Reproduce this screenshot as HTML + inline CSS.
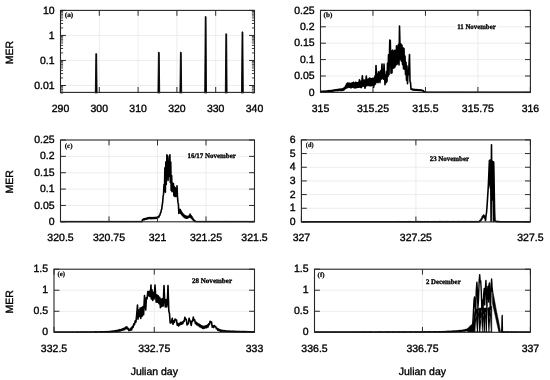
<!DOCTYPE html>
<html><head><meta charset="utf-8"><title>MER vs Julian day</title>
<style>html,body{margin:0;padding:0;background:#fff;}svg{display:block;text-rendering:geometricPrecision;}</style>
</head><body>
<svg width="550" height="380" viewBox="0 0 550 380">
<rect width="550" height="380" fill="#fff"/>
<defs>
<clipPath id="ca"><rect x="60.5" y="7.4" width="194" height="85.8"/></clipPath>
<clipPath id="cb"><rect x="320.5" y="7.4" width="209.9" height="85.8"/></clipPath>
<clipPath id="cc"><rect x="60.5" y="137" width="194" height="85.6"/></clipPath>
<clipPath id="cd"><rect x="301.4" y="136.9" width="229" height="85.85"/></clipPath>
<clipPath id="ce"><rect x="54" y="266.2" width="200.5" height="66.9"/></clipPath>
<clipPath id="cf"><rect x="314.5" y="266.2" width="215.9" height="66.9"/></clipPath>
</defs>
<line x1="99.3" y1="10.4" x2="99.3" y2="92.4" stroke="#e9e9e9" stroke-width="0.8"/>
<line x1="138.1" y1="10.4" x2="138.1" y2="92.4" stroke="#e9e9e9" stroke-width="0.8"/>
<line x1="176.9" y1="10.4" x2="176.9" y2="92.4" stroke="#e9e9e9" stroke-width="0.8"/>
<line x1="215.7" y1="10.4" x2="215.7" y2="92.4" stroke="#e9e9e9" stroke-width="0.8"/>
<line x1="60.5" y1="35.43" x2="254.5" y2="35.43" stroke="#e9e9e9" stroke-width="0.8"/>
<line x1="60.5" y1="60.46" x2="254.5" y2="60.46" stroke="#e9e9e9" stroke-width="0.8"/>
<line x1="60.5" y1="85.49" x2="254.5" y2="85.49" stroke="#e9e9e9" stroke-width="0.8"/>
<g clip-path="url(#ca)">
<path d="M95.3,94.4 L95.85,53.6 L96.65,53.8 L97.1,94.4 Z" fill="#000" stroke="#000" stroke-width="0.9" stroke-linejoin="round"/>
<path d="M157.9,94.4 L158.45,52.2 L159.25,52.4 L159.7,94.4 Z" fill="#000" stroke="#000" stroke-width="0.9" stroke-linejoin="round"/>
<path d="M179.9,94.4 L180.45,52.2 L181.25,52.4 L181.7,94.4 Z" fill="#000" stroke="#000" stroke-width="0.9" stroke-linejoin="round"/>
<path d="M204.7,94.4 L205.25,16.5 L206.05,16.7 L206.5,94.4 Z" fill="#000" stroke="#000" stroke-width="0.9" stroke-linejoin="round"/>
<path d="M225.3,94.4 L225.85,33.7 L226.65,33.9 L227.1,94.4 Z" fill="#000" stroke="#000" stroke-width="0.9" stroke-linejoin="round"/>
<path d="M241.5,94.4 L242.05,31.8 L242.85,32 L243.3,94.4 Z" fill="#000" stroke="#000" stroke-width="0.9" stroke-linejoin="round"/>
</g>
<line x1="60.5" y1="92.4" x2="60.5" y2="87" stroke="#2a2a2a" stroke-width="1"/>
<line x1="60.5" y1="10.4" x2="60.5" y2="15.8" stroke="#2a2a2a" stroke-width="1"/>
<line x1="99.3" y1="92.4" x2="99.3" y2="87" stroke="#2a2a2a" stroke-width="1"/>
<line x1="99.3" y1="10.4" x2="99.3" y2="15.8" stroke="#2a2a2a" stroke-width="1"/>
<line x1="138.1" y1="92.4" x2="138.1" y2="87" stroke="#2a2a2a" stroke-width="1"/>
<line x1="138.1" y1="10.4" x2="138.1" y2="15.8" stroke="#2a2a2a" stroke-width="1"/>
<line x1="176.9" y1="92.4" x2="176.9" y2="87" stroke="#2a2a2a" stroke-width="1"/>
<line x1="176.9" y1="10.4" x2="176.9" y2="15.8" stroke="#2a2a2a" stroke-width="1"/>
<line x1="215.7" y1="92.4" x2="215.7" y2="87" stroke="#2a2a2a" stroke-width="1"/>
<line x1="215.7" y1="10.4" x2="215.7" y2="15.8" stroke="#2a2a2a" stroke-width="1"/>
<line x1="254.5" y1="92.4" x2="254.5" y2="87" stroke="#2a2a2a" stroke-width="1"/>
<line x1="254.5" y1="10.4" x2="254.5" y2="15.8" stroke="#2a2a2a" stroke-width="1"/>
<line x1="60.5" y1="10.4" x2="65.9" y2="10.4" stroke="#2a2a2a" stroke-width="1"/>
<line x1="254.5" y1="10.4" x2="249.1" y2="10.4" stroke="#2a2a2a" stroke-width="1"/>
<line x1="60.5" y1="35.43" x2="65.9" y2="35.43" stroke="#2a2a2a" stroke-width="1"/>
<line x1="254.5" y1="35.43" x2="249.1" y2="35.43" stroke="#2a2a2a" stroke-width="1"/>
<line x1="60.5" y1="60.46" x2="65.9" y2="60.46" stroke="#2a2a2a" stroke-width="1"/>
<line x1="254.5" y1="60.46" x2="249.1" y2="60.46" stroke="#2a2a2a" stroke-width="1"/>
<line x1="60.5" y1="85.49" x2="65.9" y2="85.49" stroke="#2a2a2a" stroke-width="1"/>
<line x1="254.5" y1="85.49" x2="249.1" y2="85.49" stroke="#2a2a2a" stroke-width="1"/>
<line x1="60.5" y1="93.02" x2="63.1" y2="93.02" stroke="#2a2a2a" stroke-width="0.9"/>
<line x1="254.5" y1="93.02" x2="251.9" y2="93.02" stroke="#2a2a2a" stroke-width="0.9"/>
<line x1="60.5" y1="91.04" x2="63.1" y2="91.04" stroke="#2a2a2a" stroke-width="0.9"/>
<line x1="254.5" y1="91.04" x2="251.9" y2="91.04" stroke="#2a2a2a" stroke-width="0.9"/>
<line x1="60.5" y1="89.37" x2="63.1" y2="89.37" stroke="#2a2a2a" stroke-width="0.9"/>
<line x1="254.5" y1="89.37" x2="251.9" y2="89.37" stroke="#2a2a2a" stroke-width="0.9"/>
<line x1="60.5" y1="87.92" x2="63.1" y2="87.92" stroke="#2a2a2a" stroke-width="0.9"/>
<line x1="254.5" y1="87.92" x2="251.9" y2="87.92" stroke="#2a2a2a" stroke-width="0.9"/>
<line x1="60.5" y1="86.64" x2="63.1" y2="86.64" stroke="#2a2a2a" stroke-width="0.9"/>
<line x1="254.5" y1="86.64" x2="251.9" y2="86.64" stroke="#2a2a2a" stroke-width="0.9"/>
<line x1="60.5" y1="77.96" x2="63.1" y2="77.96" stroke="#2a2a2a" stroke-width="0.9"/>
<line x1="254.5" y1="77.96" x2="251.9" y2="77.96" stroke="#2a2a2a" stroke-width="0.9"/>
<line x1="60.5" y1="73.55" x2="63.1" y2="73.55" stroke="#2a2a2a" stroke-width="0.9"/>
<line x1="254.5" y1="73.55" x2="251.9" y2="73.55" stroke="#2a2a2a" stroke-width="0.9"/>
<line x1="60.5" y1="70.42" x2="63.1" y2="70.42" stroke="#2a2a2a" stroke-width="0.9"/>
<line x1="254.5" y1="70.42" x2="251.9" y2="70.42" stroke="#2a2a2a" stroke-width="0.9"/>
<line x1="60.5" y1="67.99" x2="63.1" y2="67.99" stroke="#2a2a2a" stroke-width="0.9"/>
<line x1="254.5" y1="67.99" x2="251.9" y2="67.99" stroke="#2a2a2a" stroke-width="0.9"/>
<line x1="60.5" y1="66.01" x2="63.1" y2="66.01" stroke="#2a2a2a" stroke-width="0.9"/>
<line x1="254.5" y1="66.01" x2="251.9" y2="66.01" stroke="#2a2a2a" stroke-width="0.9"/>
<line x1="60.5" y1="64.34" x2="63.1" y2="64.34" stroke="#2a2a2a" stroke-width="0.9"/>
<line x1="254.5" y1="64.34" x2="251.9" y2="64.34" stroke="#2a2a2a" stroke-width="0.9"/>
<line x1="60.5" y1="62.89" x2="63.1" y2="62.89" stroke="#2a2a2a" stroke-width="0.9"/>
<line x1="254.5" y1="62.89" x2="251.9" y2="62.89" stroke="#2a2a2a" stroke-width="0.9"/>
<line x1="60.5" y1="61.61" x2="63.1" y2="61.61" stroke="#2a2a2a" stroke-width="0.9"/>
<line x1="254.5" y1="61.61" x2="251.9" y2="61.61" stroke="#2a2a2a" stroke-width="0.9"/>
<line x1="60.5" y1="52.93" x2="63.1" y2="52.93" stroke="#2a2a2a" stroke-width="0.9"/>
<line x1="254.5" y1="52.93" x2="251.9" y2="52.93" stroke="#2a2a2a" stroke-width="0.9"/>
<line x1="60.5" y1="48.52" x2="63.1" y2="48.52" stroke="#2a2a2a" stroke-width="0.9"/>
<line x1="254.5" y1="48.52" x2="251.9" y2="48.52" stroke="#2a2a2a" stroke-width="0.9"/>
<line x1="60.5" y1="45.39" x2="63.1" y2="45.39" stroke="#2a2a2a" stroke-width="0.9"/>
<line x1="254.5" y1="45.39" x2="251.9" y2="45.39" stroke="#2a2a2a" stroke-width="0.9"/>
<line x1="60.5" y1="42.96" x2="63.1" y2="42.96" stroke="#2a2a2a" stroke-width="0.9"/>
<line x1="254.5" y1="42.96" x2="251.9" y2="42.96" stroke="#2a2a2a" stroke-width="0.9"/>
<line x1="60.5" y1="40.98" x2="63.1" y2="40.98" stroke="#2a2a2a" stroke-width="0.9"/>
<line x1="254.5" y1="40.98" x2="251.9" y2="40.98" stroke="#2a2a2a" stroke-width="0.9"/>
<line x1="60.5" y1="39.31" x2="63.1" y2="39.31" stroke="#2a2a2a" stroke-width="0.9"/>
<line x1="254.5" y1="39.31" x2="251.9" y2="39.31" stroke="#2a2a2a" stroke-width="0.9"/>
<line x1="60.5" y1="37.86" x2="63.1" y2="37.86" stroke="#2a2a2a" stroke-width="0.9"/>
<line x1="254.5" y1="37.86" x2="251.9" y2="37.86" stroke="#2a2a2a" stroke-width="0.9"/>
<line x1="60.5" y1="36.58" x2="63.1" y2="36.58" stroke="#2a2a2a" stroke-width="0.9"/>
<line x1="254.5" y1="36.58" x2="251.9" y2="36.58" stroke="#2a2a2a" stroke-width="0.9"/>
<line x1="60.5" y1="27.9" x2="63.1" y2="27.9" stroke="#2a2a2a" stroke-width="0.9"/>
<line x1="254.5" y1="27.9" x2="251.9" y2="27.9" stroke="#2a2a2a" stroke-width="0.9"/>
<line x1="60.5" y1="23.49" x2="63.1" y2="23.49" stroke="#2a2a2a" stroke-width="0.9"/>
<line x1="254.5" y1="23.49" x2="251.9" y2="23.49" stroke="#2a2a2a" stroke-width="0.9"/>
<line x1="60.5" y1="20.36" x2="63.1" y2="20.36" stroke="#2a2a2a" stroke-width="0.9"/>
<line x1="254.5" y1="20.36" x2="251.9" y2="20.36" stroke="#2a2a2a" stroke-width="0.9"/>
<line x1="60.5" y1="17.93" x2="63.1" y2="17.93" stroke="#2a2a2a" stroke-width="0.9"/>
<line x1="254.5" y1="17.93" x2="251.9" y2="17.93" stroke="#2a2a2a" stroke-width="0.9"/>
<line x1="60.5" y1="15.95" x2="63.1" y2="15.95" stroke="#2a2a2a" stroke-width="0.9"/>
<line x1="254.5" y1="15.95" x2="251.9" y2="15.95" stroke="#2a2a2a" stroke-width="0.9"/>
<line x1="60.5" y1="14.28" x2="63.1" y2="14.28" stroke="#2a2a2a" stroke-width="0.9"/>
<line x1="254.5" y1="14.28" x2="251.9" y2="14.28" stroke="#2a2a2a" stroke-width="0.9"/>
<line x1="60.5" y1="12.83" x2="63.1" y2="12.83" stroke="#2a2a2a" stroke-width="0.9"/>
<line x1="254.5" y1="12.83" x2="251.9" y2="12.83" stroke="#2a2a2a" stroke-width="0.9"/>
<line x1="60.5" y1="11.55" x2="63.1" y2="11.55" stroke="#2a2a2a" stroke-width="0.9"/>
<line x1="254.5" y1="11.55" x2="251.9" y2="11.55" stroke="#2a2a2a" stroke-width="0.9"/>
<rect x="60.5" y="10.4" width="194" height="82" fill="none" stroke="#262626" stroke-width="1.1"/>
<text x="60.5" y="111.8" font-family='"Liberation Sans", Arial, Helvetica, sans-serif' font-size="10.5" font-weight="normal" text-anchor="middle" fill="#000" stroke="#000" stroke-width="0.35">290</text>
<text x="99.3" y="111.8" font-family='"Liberation Sans", Arial, Helvetica, sans-serif' font-size="10.5" font-weight="normal" text-anchor="middle" fill="#000" stroke="#000" stroke-width="0.35">300</text>
<text x="138.1" y="111.8" font-family='"Liberation Sans", Arial, Helvetica, sans-serif' font-size="10.5" font-weight="normal" text-anchor="middle" fill="#000" stroke="#000" stroke-width="0.35">310</text>
<text x="176.9" y="111.8" font-family='"Liberation Sans", Arial, Helvetica, sans-serif' font-size="10.5" font-weight="normal" text-anchor="middle" fill="#000" stroke="#000" stroke-width="0.35">320</text>
<text x="215.7" y="111.8" font-family='"Liberation Sans", Arial, Helvetica, sans-serif' font-size="10.5" font-weight="normal" text-anchor="middle" fill="#000" stroke="#000" stroke-width="0.35">330</text>
<text x="254.5" y="111.8" font-family='"Liberation Sans", Arial, Helvetica, sans-serif' font-size="10.5" font-weight="normal" text-anchor="middle" fill="#000" stroke="#000" stroke-width="0.35">340</text>
<text x="54.6" y="13.5" font-family='"Liberation Sans", Arial, Helvetica, sans-serif' font-size="10.5" font-weight="normal" text-anchor="end" fill="#000" stroke="#000" stroke-width="0.35">10</text>
<text x="54.6" y="38.53" font-family='"Liberation Sans", Arial, Helvetica, sans-serif' font-size="10.5" font-weight="normal" text-anchor="end" fill="#000" stroke="#000" stroke-width="0.35">1</text>
<text x="54.6" y="63.56" font-family='"Liberation Sans", Arial, Helvetica, sans-serif' font-size="10.5" font-weight="normal" text-anchor="end" fill="#000" stroke="#000" stroke-width="0.35">0.1</text>
<text x="54.6" y="88.59" font-family='"Liberation Sans", Arial, Helvetica, sans-serif' font-size="10.5" font-weight="normal" text-anchor="end" fill="#000" stroke="#000" stroke-width="0.35">0.01</text>
<text x="64.7" y="17.1" font-family='"Liberation Serif", "Times New Roman", serif' font-size="6.8" font-weight="bold" text-anchor="start" fill="#000" stroke="#000" stroke-width="0.2" textLength="8.6" lengthAdjust="spacingAndGlyphs">(a)</text>
<line x1="372.98" y1="10.4" x2="372.98" y2="92.4" stroke="#e9e9e9" stroke-width="0.8"/>
<line x1="425.45" y1="10.4" x2="425.45" y2="92.4" stroke="#e9e9e9" stroke-width="0.8"/>
<line x1="477.92" y1="10.4" x2="477.92" y2="92.4" stroke="#e9e9e9" stroke-width="0.8"/>
<line x1="320.5" y1="76" x2="530.4" y2="76" stroke="#e9e9e9" stroke-width="0.8"/>
<line x1="320.5" y1="59.6" x2="530.4" y2="59.6" stroke="#e9e9e9" stroke-width="0.8"/>
<line x1="320.5" y1="43.2" x2="530.4" y2="43.2" stroke="#e9e9e9" stroke-width="0.8"/>
<line x1="320.5" y1="26.8" x2="530.4" y2="26.8" stroke="#e9e9e9" stroke-width="0.8"/>
<g clip-path="url(#cb)">
<polyline points="320.5,91.39 321,92.07 321.5,91.24 322,92.01 322.5,91.23 323,91.92 323.5,91.21 324,91.86 324.5,91.07 325,91.74 325.5,91.08 326,91.75 326.5,91.01 327,91.59 327.5,90.83 328,91.64 328.5,90.71 329,91.42 329.5,90.69 330,91.4 330.5,90.66 331,91.38 331.5,90.43 332,91.26 332.5,90.33 333,91.1 333.5,90.2 334,90.94 334.5,89.96 335,90.74 335.5,89.79 336,90.66 336.5,89.64 337,90.59 337.5,89.52 338,90.62 338.5,89.24 339,90.37 339.5,89.14 340,90.37 340.5,89.15 341,90.45 341.5,89.03 342,90.44 342.5,88.75 343,90.27 343.5,88.29 344,89.85 344.5,87.52 345,88.87 345.5,86.09 346,88.16 346.5,84.07 347,87.67 347.5,83.02 348,87.46 348.5,83.8 348.8,83 349.5,87.29 350,83.19 350.5,87.62 351,83.68 351.5,87.57 352,82.75 352.5,87.18 353,83.42 353.4,82.3 354,87.69 354.5,83.26 355,87.89 355.5,82.42 356,87.79 356.5,82.54 357,87.52 357.5,82.69 358,87.15 358.5,82.4 359,87.21 359.4,79.8 360,81.87 360.5,87.34 361,81.35 361.5,87.33 362,79.9 362.4,75.7 363,86.25 363.5,80.23 364,85.89 364.5,80.04 364.9,88.2 365.5,86.31 366,78.72 366.3,76.1 367,85.64 367.5,79.48 368,84.9 368.5,79.07 369,85.81 369.5,77.97 370,85.5 370.5,78.52 371,85.89 371.5,78.74 372,85.08 372.5,78.39 373,85.04 373.7,87.2 374,78.02 374.5,84.87 375,75.82 375.5,84.03 376,65.5 376.5,74.66 377,82.11 377.5,74.21 378,82.69 378.5,71.85 379,81.28 379.5,72.62 380,82.58 380.5,70.89 381,79.55 381.5,71.9 382,64 382.5,78.49 383,71.78 383.5,79.13 384,64 384.5,73.81 385,84.78 385.5,75.53 386,82.68 386.5,71.52 387,81.59 387.5,63.38 388,76.44 388.5,54.82 389,74.63 389.5,53.37 389.8,40 390.3,40.5 391,73.11 391.5,51.36 392,72.85 392.5,49.96 393,68.2 393.5,51.41 394,68.04 394.5,50.27 395,66.86 395.5,50.5 396,64.93 396.5,45.9 397,64.44 397.5,46.33 398,63.07 398.5,44.23 399,64.94 399.5,26 400,45.74 400.5,59.67 401,44.06 401.5,61.19 402,45.22 402.5,64.58 403,47.71 403.5,68.84 404,48.6 404.5,69.15 405,56.13 405.5,74.51 406,62.24 406.5,80.14 407,65.96 407.5,83.63 408,72.37 408.5,74.79 409,64.66 409.5,54.5 410,81.84 410.5,82.25 411,89.17 411.5,88.74 412,89.64 412.5,89.13 413,90.05 413.5,89.44 414,90.12 414.5,89.42 415,90.13 415.5,89.56 416,90.18 416.5,89.57 417,90.24 417.5,89.67 418,90.3 418.5,89.74 419,90.3 419.5,89.87 420,90.33 420.5,89.88 421,90.5 421.5,90.08 422,90.75 422.5,90.25 423,90.93 423.5,90.83 424,91.63 424.5,91.78 425,92.37 425.5,92.23 426,92.38 426.5,92.22 427,92.39 427.5,92.21 428,92.38 428.5,92.21 429,92.37 429.5,92.23 430,92.4 430.5,92.23 431,92.38 431.5,92.23 432,92.39 432.5,92.2 433,92.38 433.5,92.22 434,92.37 434.5,92.22 435,92.38 435.5,92.23 436,92.38 436.5,92.21 437,92.37 437.5,92.2 438,92.39 438.5,92.22 439,92.39 439.5,92.23 440,92.38 440.5,92.21 441,92.37 441.5,92.21 442,92.37 442.5,92.23 443,92.39 443.5,92.22 444,92.39 444.5,92.23 445,92.39 445.5,92.21 446,92.38 446.5,92.22 447,92.37 447.5,92.2 448,92.38 448.5,92.23 449,92.4 449.5,92.2 450,92.4 450.5,92.21 451,92.38 451.5,92.22 452,92.37 452.5,92.24 453,92.4 453.5,92.22 454,92.4 454.5,92.21 455,92.39 455.5,92.23 456,92.4 456.5,92.21 457,92.38 457.5,92.21 458,92.38 458.5,92.21 459,92.37 459.5,92.21 460,92.39 460.5,92.22 461,92.39 461.5,92.24 462,92.38 462.5,92.21 463,92.39 463.5,92.23 464,92.39 464.5,92.21 465,92.38 465.5,92.21 466,92.37 466.5,92.22 467,92.37 467.5,92.2 468,92.4 468.5,92.2 469,92.37 469.5,92.23 470,92.38 470.5,92.21 471,92.37 471.5,92.22 472,92.38 472.5,92.2 473,92.37 473.5,92.2 474,92.38 474.5,92.21 475,92.39 475.5,92.21 476,92.37 476.5,92.21 477,92.37 477.5,92.23 478,92.37 478.5,92.2 479,92.36 479.5,92.22 480,92.37 480.5,92.22 481,92.37 481.5,92.21 482,92.39 482.5,92.23 483,92.38 483.5,92.22 484,92.37 484.5,92.22 485,92.4 485.5,92.21 486,92.4 486.5,92.21 487,92.39 487.5,92.22 488,92.37 488.5,92.23 489,92.39 489.5,92.22 490,92.37 490.5,92.21 491,92.38 491.5,92.2 492,92.38 492.5,92.2 493,92.4 493.5,92.23 494,92.38 494.5,92.23 495,92.37 495.5,92.21 496,92.38 496.5,92.21 497,92.38 497.5,92.22 498,92.39 498.5,92.21 499,92.37 499.5,92.23 500,92.37 500.5,92.2 501,92.38 501.5,92.22 502,92.39 502.5,92.22 503,92.38 503.5,92.21 504,92.4 504.5,92.2 505,92.38 505.5,92.22 506,92.37 506.5,92.22 507,92.38 507.5,92.21 508,92.4 508.5,92.22 509,92.39 509.5,92.2 510,92.37 510.5,92.23 511,92.38 511.5,92.23 512,92.38 512.5,92.21 513,92.37 513.5,92.22 514,92.39 514.5,92.23 515,92.38 515.5,92.2 516,92.4 516.5,92.21 517,92.4 517.5,92.23 518,92.39 518.5,92.21 519,92.39 519.5,92.22 520,92.38 520.5,92.23 521,92.37 521.5,92.23 522,92.38 522.5,92.23 523,92.39 523.5,92.22 524,92.38 524.5,92.22 525,92.39 525.5,92.22 526,92.39 526.5,92.23 527,92.38 527.5,92.21 528,92.38 528.5,92.21 529,92.38 529.5,92.21 530,92.39" fill="none" stroke="#000" stroke-width="1.6" stroke-linejoin="round"/>
</g>
<line x1="320.5" y1="92.4" x2="320.5" y2="87" stroke="#2a2a2a" stroke-width="1"/>
<line x1="320.5" y1="10.4" x2="320.5" y2="15.8" stroke="#2a2a2a" stroke-width="1"/>
<line x1="372.98" y1="92.4" x2="372.98" y2="87" stroke="#2a2a2a" stroke-width="1"/>
<line x1="372.98" y1="10.4" x2="372.98" y2="15.8" stroke="#2a2a2a" stroke-width="1"/>
<line x1="425.45" y1="92.4" x2="425.45" y2="87" stroke="#2a2a2a" stroke-width="1"/>
<line x1="425.45" y1="10.4" x2="425.45" y2="15.8" stroke="#2a2a2a" stroke-width="1"/>
<line x1="477.92" y1="92.4" x2="477.92" y2="87" stroke="#2a2a2a" stroke-width="1"/>
<line x1="477.92" y1="10.4" x2="477.92" y2="15.8" stroke="#2a2a2a" stroke-width="1"/>
<line x1="530.4" y1="92.4" x2="530.4" y2="87" stroke="#2a2a2a" stroke-width="1"/>
<line x1="530.4" y1="10.4" x2="530.4" y2="15.8" stroke="#2a2a2a" stroke-width="1"/>
<line x1="320.5" y1="92.4" x2="325.9" y2="92.4" stroke="#2a2a2a" stroke-width="1"/>
<line x1="530.4" y1="92.4" x2="525" y2="92.4" stroke="#2a2a2a" stroke-width="1"/>
<line x1="320.5" y1="76" x2="325.9" y2="76" stroke="#2a2a2a" stroke-width="1"/>
<line x1="530.4" y1="76" x2="525" y2="76" stroke="#2a2a2a" stroke-width="1"/>
<line x1="320.5" y1="59.6" x2="325.9" y2="59.6" stroke="#2a2a2a" stroke-width="1"/>
<line x1="530.4" y1="59.6" x2="525" y2="59.6" stroke="#2a2a2a" stroke-width="1"/>
<line x1="320.5" y1="43.2" x2="325.9" y2="43.2" stroke="#2a2a2a" stroke-width="1"/>
<line x1="530.4" y1="43.2" x2="525" y2="43.2" stroke="#2a2a2a" stroke-width="1"/>
<line x1="320.5" y1="26.8" x2="325.9" y2="26.8" stroke="#2a2a2a" stroke-width="1"/>
<line x1="530.4" y1="26.8" x2="525" y2="26.8" stroke="#2a2a2a" stroke-width="1"/>
<line x1="320.5" y1="10.4" x2="325.9" y2="10.4" stroke="#2a2a2a" stroke-width="1"/>
<line x1="530.4" y1="10.4" x2="525" y2="10.4" stroke="#2a2a2a" stroke-width="1"/>
<rect x="320.5" y="10.4" width="209.9" height="82" fill="none" stroke="#262626" stroke-width="1.1"/>
<text x="320.5" y="111.8" font-family='"Liberation Sans", Arial, Helvetica, sans-serif' font-size="10.5" font-weight="normal" text-anchor="middle" fill="#000" stroke="#000" stroke-width="0.35">315</text>
<text x="372.98" y="111.8" font-family='"Liberation Sans", Arial, Helvetica, sans-serif' font-size="10.5" font-weight="normal" text-anchor="middle" fill="#000" stroke="#000" stroke-width="0.35">315.25</text>
<text x="425.45" y="111.8" font-family='"Liberation Sans", Arial, Helvetica, sans-serif' font-size="10.5" font-weight="normal" text-anchor="middle" fill="#000" stroke="#000" stroke-width="0.35">315.5</text>
<text x="477.92" y="111.8" font-family='"Liberation Sans", Arial, Helvetica, sans-serif' font-size="10.5" font-weight="normal" text-anchor="middle" fill="#000" stroke="#000" stroke-width="0.35">315.75</text>
<text x="530.4" y="111.8" font-family='"Liberation Sans", Arial, Helvetica, sans-serif' font-size="10.5" font-weight="normal" text-anchor="middle" fill="#000" stroke="#000" stroke-width="0.35">316</text>
<text x="314.6" y="95.5" font-family='"Liberation Sans", Arial, Helvetica, sans-serif' font-size="10.5" font-weight="normal" text-anchor="end" fill="#000" stroke="#000" stroke-width="0.35">0</text>
<text x="314.6" y="79.1" font-family='"Liberation Sans", Arial, Helvetica, sans-serif' font-size="10.5" font-weight="normal" text-anchor="end" fill="#000" stroke="#000" stroke-width="0.35">0.05</text>
<text x="314.6" y="62.7" font-family='"Liberation Sans", Arial, Helvetica, sans-serif' font-size="10.5" font-weight="normal" text-anchor="end" fill="#000" stroke="#000" stroke-width="0.35">0.1</text>
<text x="314.6" y="46.3" font-family='"Liberation Sans", Arial, Helvetica, sans-serif' font-size="10.5" font-weight="normal" text-anchor="end" fill="#000" stroke="#000" stroke-width="0.35">0.15</text>
<text x="314.6" y="29.9" font-family='"Liberation Sans", Arial, Helvetica, sans-serif' font-size="10.5" font-weight="normal" text-anchor="end" fill="#000" stroke="#000" stroke-width="0.35">0.2</text>
<text x="314.6" y="13.5" font-family='"Liberation Sans", Arial, Helvetica, sans-serif' font-size="10.5" font-weight="normal" text-anchor="end" fill="#000" stroke="#000" stroke-width="0.35">0.25</text>
<text x="323.6" y="17.2" font-family='"Liberation Serif", "Times New Roman", serif' font-size="6.8" font-weight="bold" text-anchor="start" fill="#000" stroke="#000" stroke-width="0.2" textLength="8.8" lengthAdjust="spacingAndGlyphs">(b)</text>
<line x1="109" y1="140" x2="109" y2="221.8" stroke="#e9e9e9" stroke-width="0.8"/>
<line x1="157.5" y1="140" x2="157.5" y2="221.8" stroke="#e9e9e9" stroke-width="0.8"/>
<line x1="206" y1="140" x2="206" y2="221.8" stroke="#e9e9e9" stroke-width="0.8"/>
<line x1="60.5" y1="205.44" x2="254.5" y2="205.44" stroke="#e9e9e9" stroke-width="0.8"/>
<line x1="60.5" y1="189.08" x2="254.5" y2="189.08" stroke="#e9e9e9" stroke-width="0.8"/>
<line x1="60.5" y1="172.72" x2="254.5" y2="172.72" stroke="#e9e9e9" stroke-width="0.8"/>
<line x1="60.5" y1="156.36" x2="254.5" y2="156.36" stroke="#e9e9e9" stroke-width="0.8"/>
<g clip-path="url(#cc)">
<polyline points="60.5,221.6 60.95,221.89 61.4,221.65 61.85,221.85 62.3,221.64 62.75,221.89 63.2,221.62 63.65,221.88 64.1,221.61 64.55,221.89 65,221.6 65.45,221.88 65.9,221.62 66.35,221.85 66.8,221.62 67.25,221.85 67.7,221.62 68.15,221.9 68.6,221.61 69.05,221.87 69.5,221.64 69.95,221.89 70.4,221.61 70.85,221.87 71.3,221.6 71.75,221.86 72.2,221.6 72.65,221.87 73.1,221.62 73.55,221.87 74,221.64 74.45,221.85 74.9,221.64 75.35,221.86 75.8,221.6 76.25,221.86 76.7,221.65 77.15,221.86 77.6,221.62 78.05,221.89 78.5,221.65 78.95,221.87 79.4,221.65 79.85,221.85 80.3,221.63 80.75,221.87 81.2,221.63 81.65,221.86 82.1,221.6 82.55,221.88 83,221.63 83.45,221.87 83.9,221.64 84.35,221.87 84.8,221.62 85.25,221.88 85.7,221.62 86.15,221.87 86.6,221.65 87.05,221.85 87.5,221.63 87.95,221.88 88.4,221.63 88.85,221.85 89.3,221.6 89.75,221.87 90.2,221.63 90.65,221.89 91.1,221.61 91.55,221.89 92,221.62 92.45,221.88 92.9,221.64 93.35,221.88 93.8,221.64 94.25,221.9 94.7,221.63 95.15,221.86 95.6,221.62 96.05,221.89 96.5,221.62 96.95,221.9 97.4,221.63 97.85,221.86 98.3,221.6 98.75,221.88 99.2,221.61 99.65,221.87 100.1,221.63 100.55,221.87 101,221.6 101.45,221.86 101.9,221.63 102.35,221.86 102.8,221.62 103.25,221.88 103.7,221.61 104.15,221.86 104.6,221.62 105.05,221.85 105.5,221.65 105.95,221.87 106.4,221.62 106.85,221.88 107.3,221.64 107.75,221.86 108.2,221.63 108.65,221.89 109.1,221.65 109.55,221.85 110,221.63 110.45,221.89 110.9,221.64 111.35,221.89 111.8,221.61 112.25,221.89 112.7,221.64 113.15,221.89 113.6,221.63 114.05,221.89 114.5,221.64 114.95,221.86 115.4,221.6 115.85,221.85 116.3,221.65 116.75,221.88 117.2,221.61 117.65,221.9 118.1,221.64 118.55,221.87 119,221.63 119.45,221.86 119.9,221.62 120.35,221.87 120.8,221.64 121.25,221.89 121.7,221.64 122.15,221.9 122.6,221.62 123.05,221.89 123.5,221.61 123.95,221.87 124.4,221.65 124.85,221.87 125.3,221.62 125.75,221.9 126.2,221.63 126.65,221.9 127.1,221.61 127.55,221.9 128,221.62 128.45,221.85 128.9,221.61 129.35,221.89 129.8,221.63 130.25,221.89 130.7,221.64 131.15,221.85 131.6,221.61 132.05,221.9 132.5,221.63 132.95,221.87 133.4,221.64 133.85,221.86 134.3,221.61 134.75,221.87 135.2,221.63 135.65,221.85 136.1,221.63 136.55,221.89 137,221.64 137.45,221.89 137.9,221.61 138.35,221.87 138.8,221.62 139.25,221.86 139.7,221.6 140.15,221.89 140.6,221.63 141.05,221.85 141.5,221.61 141.95,221.88 142.4,219.91 142.85,219.92 143.3,219.03 143.75,219.8 144.2,218.84 144.65,219.62 145.1,218.66 145.55,219.27 146,218.45 146.45,219.09 146.9,218.05 147.35,218.83 147.8,217.84 148.25,218.55 148.7,217.69 149.15,218.41 149.6,217.56 150.05,218.44 150.5,217.53 150.95,218.58 151.4,217.68 151.85,218.56 152.3,217.6 152.75,218.41 153.2,217.52 153.65,218.52 154.1,217.57 154.55,218.45 155,217.63 155.45,218.36 155.9,217.42 156.35,218.32 156.8,217.34 157.25,218.06 157.7,216.85 158.15,217.53 158.6,216.25 159.05,216.86 159.5,215.1 159.95,215.09 160.4,212.96 160.85,212.73 161.3,209.82 161.75,209.05 162.2,204.83 162.65,202.45 163.1,196.4 163.55,194.15 164,184.63 164.45,189.04 164.9,167.91 165.35,192.23 165.8,162.07 166.25,184.48 166.9,154.9 167.6,155.8 168.05,180.53 168.5,166.04 168.95,176.36 169.4,157.8 169.9,154.9 170.3,182.41 170.75,162.03 171.2,190.4 171.65,175.48 172.1,191.71 172.55,182.97 173,190.21 173.45,183.55 173.9,195.67 174.35,186.74 174.8,196.33 175.25,187.91 175.7,196.39 176.15,189.76 176.6,196.26 177,185.8 177.5,197.05 177.95,202.39 178.4,204.09 178.85,213.45 179.3,209.24 179.75,212.72 180.2,209.43 180.65,213.21 181.1,211.05 181.55,214.38 182,212.53 182.45,215.52 182.9,213.77 183.35,216.47 183.8,214.8 184.25,217.49 184.7,215.58 185.15,217.62 185.6,215.95 186.05,218.18 186.5,216.28 186.95,218.27 187.4,216.64 187.85,218 188.3,216.27 188.75,217.36 189.2,215.74 189.65,216.98 190.1,214.03 190.55,217.45 191,215.5 191.45,218.03 191.9,216.82 192.35,219.06 192.8,218.31 193.25,220.02 193.7,219.57 194.15,221.03 194.6,220.55 195.05,221.39 195.5,221.24 195.95,221.84 196.4,221.64 196.85,221.87 197.3,221.63 197.75,221.86 198.2,221.63 198.65,221.85 199.1,221.62 199.55,221.89 200,221.63 200.45,221.89 200.9,221.61 201.35,221.9 201.8,221.62 202.25,221.88 202.7,221.61 203.15,221.89 203.6,221.62 204.05,221.86 204.5,221.64 204.95,221.89 205.4,221.63 205.85,221.86 206.3,221.64 206.75,221.9 207.2,221.63 207.65,221.86 208.1,221.65 208.55,221.85 209,221.63 209.45,221.89 209.9,221.65 210.35,221.88 210.8,221.63 211.25,221.89 211.7,221.65 212.15,221.87 212.6,221.64 213.05,221.88 213.5,221.63 213.95,221.86 214.4,221.62 214.85,221.89 215.3,221.64 215.75,221.85 216.2,221.65 216.65,221.89 217.1,221.65 217.55,221.86 218,221.62 218.45,221.85 218.9,221.62 219.35,221.88 219.8,221.63 220.25,221.86 220.7,221.64 221.15,221.86 221.6,221.63 222.05,221.9 222.5,221.64 222.95,221.87 223.4,221.65 223.85,221.85 224.3,221.6 224.75,221.87 225.2,221.61 225.65,221.86 226.1,221.62 226.55,221.89 227,221.6 227.45,221.85 227.9,221.63 228.35,221.88 228.8,221.65 229.25,221.87 229.7,221.61 230.15,221.88 230.6,221.64 231.05,221.87 231.5,221.61 231.95,221.89 232.4,221.64 232.85,221.87 233.3,221.65 233.75,221.86 234.2,221.64 234.65,221.86 235.1,221.63 235.55,221.89 236,221.65 236.45,221.89 236.9,221.64 237.35,221.86 237.8,221.61 238.25,221.87 238.7,221.64 239.15,221.86 239.6,221.61 240.05,221.88 240.5,221.65 240.95,221.87 241.4,221.64 241.85,221.89 242.3,221.63 242.75,221.9 243.2,221.61 243.65,221.88 244.1,221.61 244.55,221.86 245,221.65 245.45,221.85 245.9,221.61 246.35,221.87 246.8,221.61 247.25,221.87 247.7,221.65 248.15,221.89 248.6,221.64 249.05,221.85 249.5,221.61 249.95,221.89 250.4,221.64 250.85,221.89 251.3,221.64 251.75,221.88 252.2,221.63 252.65,221.89 253.1,221.62 253.55,221.89 254,221.61 254.45,221.87" fill="none" stroke="#000" stroke-width="1.6" stroke-linejoin="round"/>
</g>
<line x1="60.5" y1="221.8" x2="60.5" y2="216.4" stroke="#2a2a2a" stroke-width="1"/>
<line x1="60.5" y1="140" x2="60.5" y2="145.4" stroke="#2a2a2a" stroke-width="1"/>
<line x1="109" y1="221.8" x2="109" y2="216.4" stroke="#2a2a2a" stroke-width="1"/>
<line x1="109" y1="140" x2="109" y2="145.4" stroke="#2a2a2a" stroke-width="1"/>
<line x1="157.5" y1="221.8" x2="157.5" y2="216.4" stroke="#2a2a2a" stroke-width="1"/>
<line x1="157.5" y1="140" x2="157.5" y2="145.4" stroke="#2a2a2a" stroke-width="1"/>
<line x1="206" y1="221.8" x2="206" y2="216.4" stroke="#2a2a2a" stroke-width="1"/>
<line x1="206" y1="140" x2="206" y2="145.4" stroke="#2a2a2a" stroke-width="1"/>
<line x1="254.5" y1="221.8" x2="254.5" y2="216.4" stroke="#2a2a2a" stroke-width="1"/>
<line x1="254.5" y1="140" x2="254.5" y2="145.4" stroke="#2a2a2a" stroke-width="1"/>
<line x1="60.5" y1="221.8" x2="65.9" y2="221.8" stroke="#2a2a2a" stroke-width="1"/>
<line x1="254.5" y1="221.8" x2="249.1" y2="221.8" stroke="#2a2a2a" stroke-width="1"/>
<line x1="60.5" y1="205.44" x2="65.9" y2="205.44" stroke="#2a2a2a" stroke-width="1"/>
<line x1="254.5" y1="205.44" x2="249.1" y2="205.44" stroke="#2a2a2a" stroke-width="1"/>
<line x1="60.5" y1="189.08" x2="65.9" y2="189.08" stroke="#2a2a2a" stroke-width="1"/>
<line x1="254.5" y1="189.08" x2="249.1" y2="189.08" stroke="#2a2a2a" stroke-width="1"/>
<line x1="60.5" y1="172.72" x2="65.9" y2="172.72" stroke="#2a2a2a" stroke-width="1"/>
<line x1="254.5" y1="172.72" x2="249.1" y2="172.72" stroke="#2a2a2a" stroke-width="1"/>
<line x1="60.5" y1="156.36" x2="65.9" y2="156.36" stroke="#2a2a2a" stroke-width="1"/>
<line x1="254.5" y1="156.36" x2="249.1" y2="156.36" stroke="#2a2a2a" stroke-width="1"/>
<line x1="60.5" y1="140" x2="65.9" y2="140" stroke="#2a2a2a" stroke-width="1"/>
<line x1="254.5" y1="140" x2="249.1" y2="140" stroke="#2a2a2a" stroke-width="1"/>
<rect x="60.5" y="140" width="194" height="81.8" fill="none" stroke="#262626" stroke-width="1.1"/>
<text x="60.5" y="241.2" font-family='"Liberation Sans", Arial, Helvetica, sans-serif' font-size="10.5" font-weight="normal" text-anchor="middle" fill="#000" stroke="#000" stroke-width="0.35">320.5</text>
<text x="109" y="241.2" font-family='"Liberation Sans", Arial, Helvetica, sans-serif' font-size="10.5" font-weight="normal" text-anchor="middle" fill="#000" stroke="#000" stroke-width="0.35">320.75</text>
<text x="157.5" y="241.2" font-family='"Liberation Sans", Arial, Helvetica, sans-serif' font-size="10.5" font-weight="normal" text-anchor="middle" fill="#000" stroke="#000" stroke-width="0.35">321</text>
<text x="206" y="241.2" font-family='"Liberation Sans", Arial, Helvetica, sans-serif' font-size="10.5" font-weight="normal" text-anchor="middle" fill="#000" stroke="#000" stroke-width="0.35">321.25</text>
<text x="254.5" y="241.2" font-family='"Liberation Sans", Arial, Helvetica, sans-serif' font-size="10.5" font-weight="normal" text-anchor="middle" fill="#000" stroke="#000" stroke-width="0.35">321.5</text>
<text x="54.6" y="224.9" font-family='"Liberation Sans", Arial, Helvetica, sans-serif' font-size="10.5" font-weight="normal" text-anchor="end" fill="#000" stroke="#000" stroke-width="0.35">0</text>
<text x="54.6" y="208.54" font-family='"Liberation Sans", Arial, Helvetica, sans-serif' font-size="10.5" font-weight="normal" text-anchor="end" fill="#000" stroke="#000" stroke-width="0.35">0.05</text>
<text x="54.6" y="192.18" font-family='"Liberation Sans", Arial, Helvetica, sans-serif' font-size="10.5" font-weight="normal" text-anchor="end" fill="#000" stroke="#000" stroke-width="0.35">0.1</text>
<text x="54.6" y="175.82" font-family='"Liberation Sans", Arial, Helvetica, sans-serif' font-size="10.5" font-weight="normal" text-anchor="end" fill="#000" stroke="#000" stroke-width="0.35">0.15</text>
<text x="54.6" y="159.46" font-family='"Liberation Sans", Arial, Helvetica, sans-serif' font-size="10.5" font-weight="normal" text-anchor="end" fill="#000" stroke="#000" stroke-width="0.35">0.2</text>
<text x="54.6" y="143.1" font-family='"Liberation Sans", Arial, Helvetica, sans-serif' font-size="10.5" font-weight="normal" text-anchor="end" fill="#000" stroke="#000" stroke-width="0.35">0.25</text>
<text x="64.7" y="147.5" font-family='"Liberation Serif", "Times New Roman", serif' font-size="6.8" font-weight="bold" text-anchor="start" fill="#000" stroke="#000" stroke-width="0.2" textLength="7.8" lengthAdjust="spacingAndGlyphs">(c)</text>
<line x1="415.9" y1="139.9" x2="415.9" y2="221.95" stroke="#e9e9e9" stroke-width="0.8"/>
<line x1="301.4" y1="208.27" x2="530.4" y2="208.27" stroke="#e9e9e9" stroke-width="0.8"/>
<line x1="301.4" y1="194.6" x2="530.4" y2="194.6" stroke="#e9e9e9" stroke-width="0.8"/>
<line x1="301.4" y1="180.93" x2="530.4" y2="180.93" stroke="#e9e9e9" stroke-width="0.8"/>
<line x1="301.4" y1="167.25" x2="530.4" y2="167.25" stroke="#e9e9e9" stroke-width="0.8"/>
<line x1="301.4" y1="153.57" x2="530.4" y2="153.57" stroke="#e9e9e9" stroke-width="0.8"/>
<g clip-path="url(#cd)">
<polyline points="301.3,221.77 301.9,222.02 302.5,221.76 303.1,222.03 303.7,221.77 304.3,222 304.9,221.75 305.5,222.04 306.1,221.76 306.7,222.01 307.3,221.77 307.9,222 308.5,221.77 309.1,222.02 309.7,221.75 310.3,222.01 310.9,221.78 311.5,222.03 312.1,221.77 312.7,222.04 313.3,221.76 313.9,222.01 314.5,221.77 315.1,222 315.7,221.74 316.3,222.01 316.9,221.75 317.5,222.04 318.1,221.79 318.7,221.99 319.3,221.77 319.9,222.03 320.5,221.74 321.1,222 321.7,221.78 322.3,222.03 322.9,221.77 323.5,222.03 324.1,221.79 324.7,222.01 325.3,221.77 325.9,222.02 326.5,221.77 327.1,222.04 327.7,221.78 328.3,221.99 328.9,221.74 329.5,222.01 330.1,221.78 330.7,222.03 331.3,221.77 331.9,222.02 332.5,221.78 333.1,222.03 333.7,221.77 334.3,222.03 334.9,221.74 335.5,222.01 336.1,221.75 336.7,222.02 337.3,221.75 337.9,221.99 338.5,221.76 339.1,222.04 339.7,221.75 340.3,222.02 340.9,221.73 341.5,222.03 342.1,221.72 342.7,222.04 343.3,221.74 343.9,222.01 344.5,221.75 345.1,221.99 345.7,221.73 346.3,222.03 346.9,221.74 347.5,222 348.1,221.77 348.7,222.03 349.3,221.73 349.9,221.99 350.5,221.74 351.1,222.01 351.7,221.74 352.3,222.02 352.9,221.71 353.5,221.98 354.1,221.74 354.7,222.03 355.3,221.74 355.9,221.99 356.5,221.74 357.1,222.03 357.7,221.75 358.3,221.99 358.9,221.72 359.5,222.02 360.1,221.72 360.7,221.99 361.3,221.7 361.9,221.98 362.5,221.73 363.1,221.98 363.7,221.7 364.3,221.98 364.9,221.71 365.5,222 366.1,221.72 366.7,221.98 367.3,221.72 367.9,221.99 368.5,221.74 369.1,222.03 369.7,221.74 370.3,222 370.9,221.72 371.5,222.02 372.1,221.74 372.7,221.97 373.3,221.75 373.9,221.97 374.5,221.7 375.1,221.99 375.7,221.69 376.3,221.99 376.9,221.75 377.5,221.97 378.1,221.72 378.7,221.97 379.3,221.7 379.9,222.02 380.5,221.74 381.1,222.03 381.7,221.7 382.3,221.98 382.9,221.73 383.5,222.02 384.1,221.72 384.7,221.98 385.3,221.7 385.9,221.97 386.5,221.68 387.1,221.98 387.7,221.69 388.3,222.02 388.9,221.74 389.5,221.97 390.1,221.7 390.7,222 391.3,221.73 391.9,222 392.5,221.71 393.1,221.99 393.7,221.71 394.3,222.01 394.9,221.73 395.5,222.01 396.1,221.73 396.7,222.02 397.3,221.71 397.9,222.01 398.5,221.68 399.1,221.99 399.7,221.7 400.3,221.98 400.9,221.71 401.5,222.02 402.1,221.72 402.7,222 403.3,221.7 403.9,222 404.5,221.71 405.1,221.97 405.7,221.73 406.3,221.99 406.9,221.7 407.5,222 408.1,221.68 408.7,222.01 409.3,221.72 409.9,222.01 410.5,221.66 411.1,222 411.7,221.71 412.3,221.96 412.9,221.68 413.5,221.96 414.1,221.7 414.7,221.97 415.3,221.72 415.9,222 416.5,221.67 417.1,221.98 417.7,221.67 418.3,221.99 418.9,221.66 419.5,222.01 420.1,221.67 420.7,222 421.3,221.7 421.9,221.96 422.5,221.69 423.1,221.96 423.7,221.69 424.3,221.97 424.9,221.65 425.5,221.97 426.1,221.7 426.7,221.97 427.3,221.65 427.9,221.96 428.5,221.68 429.1,221.99 429.7,221.7 430.3,221.96 430.9,221.7 431.5,222 432.1,221.7 432.7,222 433.3,221.68 433.9,221.98 434.5,221.69 435.1,221.98 435.7,221.65 436.3,222.01 436.9,221.69 437.5,221.98 438.1,221.64 438.7,221.95 439.3,221.66 439.9,222 440.5,221.64 441.1,221.94 441.7,221.64 442.3,221.97 442.9,221.67 443.5,221.97 444.1,221.64 444.7,221.94 445.3,221.66 445.9,221.97 446.5,221.67 447.1,221.97 447.7,221.66 448.3,221.99 448.9,221.66 449.5,221.95 450.1,221.68 450.7,221.99 451.3,221.67 451.9,221.95 452.5,221.67 453.1,221.95 453.7,221.63 454.3,221.95 454.9,221.63 455.5,221.99 456.1,221.66 456.7,221.95 457.3,221.67 457.9,221.96 458.5,221.63 459.1,221.94 459.7,221.66 460.3,222 460.9,221.68 461.5,221.98 462.1,221.65 462.7,221.98 463.3,221.63 463.9,221.96 464.5,221.64 465.1,221.95 465.7,221.66 466.3,221.96 466.9,221.66 467.5,221.98 468.1,221.67 468.7,221.95 469.3,221.62 469.9,222 470.5,221.63 471.1,222 471.7,221.65 472.3,221.98 472.9,221.61 473.5,221.97 474.1,221.64 474.7,221.98 475.3,221.66 475.9,221.98 476.5,221.67 477.1,222 477.7,221.63 478.3,221.95 478.9,221.62 479.5,221.67 480.1,220.39 480.7,220.96 481.3,218.86 481.9,219.01 482.5,216.21 483.1,217.02 483.7,215.08 484.3,217.91 484.9,216.17 485.5,220.56 486,216 486.6,212 487.2,204 487.7,196 488.2,188 488.6,180 489,170 489.4,160.5 489.7,185 490,160 490.3,188 490.6,160 490.9,195 491.1,221.5 491.3,175 491.5,144.7 491.7,170 492,200 492.3,161 492.6,198 492.9,161.5 493.2,200 493.5,221.5 493.6,175 493.7,162 494,175 494.3,195 494.6,212 495,221 496,221.34 496.6,221.78 497.2,221.43 497.8,221.82 498.4,221.55 499,221.93 499.6,221.66 500.2,221.98 500.8,221.74 501.4,221.99 502,221.73 502.6,221.99 503.2,221.74 503.8,221.97 504.4,221.71 505,221.96 505.6,221.75 506.2,222 506.8,221.74 507.4,221.97 508,221.71 508.6,221.96 509.2,221.7 509.8,221.97 510.4,221.72 511,221.98 511.6,221.74 512.2,221.99 512.8,221.73 513.4,221.97 514,221.72 514.6,221.98 515.2,221.73 515.8,221.99 516.4,221.71 517,221.97 517.6,221.71 518.2,221.96 518.8,221.74 519.4,221.99 520,221.74 520.6,221.95 521.2,221.71 521.8,221.98 522.4,221.71 523,221.98 523.6,221.71 524.2,222 524.8,221.71 525.4,221.95 526,221.73 526.6,221.98 527.2,221.75 527.8,221.99 528.4,221.74 529,221.98 529.6,221.75 530.2,221.98" fill="none" stroke="#000" stroke-width="1.6" stroke-linejoin="round"/>
</g>
<line x1="301.4" y1="221.95" x2="301.4" y2="216.55" stroke="#2a2a2a" stroke-width="1"/>
<line x1="301.4" y1="139.9" x2="301.4" y2="145.3" stroke="#2a2a2a" stroke-width="1"/>
<line x1="415.9" y1="221.95" x2="415.9" y2="216.55" stroke="#2a2a2a" stroke-width="1"/>
<line x1="415.9" y1="139.9" x2="415.9" y2="145.3" stroke="#2a2a2a" stroke-width="1"/>
<line x1="530.4" y1="221.95" x2="530.4" y2="216.55" stroke="#2a2a2a" stroke-width="1"/>
<line x1="530.4" y1="139.9" x2="530.4" y2="145.3" stroke="#2a2a2a" stroke-width="1"/>
<line x1="301.4" y1="221.95" x2="306.8" y2="221.95" stroke="#2a2a2a" stroke-width="1"/>
<line x1="530.4" y1="221.95" x2="525" y2="221.95" stroke="#2a2a2a" stroke-width="1"/>
<line x1="301.4" y1="208.27" x2="306.8" y2="208.27" stroke="#2a2a2a" stroke-width="1"/>
<line x1="530.4" y1="208.27" x2="525" y2="208.27" stroke="#2a2a2a" stroke-width="1"/>
<line x1="301.4" y1="194.6" x2="306.8" y2="194.6" stroke="#2a2a2a" stroke-width="1"/>
<line x1="530.4" y1="194.6" x2="525" y2="194.6" stroke="#2a2a2a" stroke-width="1"/>
<line x1="301.4" y1="180.93" x2="306.8" y2="180.93" stroke="#2a2a2a" stroke-width="1"/>
<line x1="530.4" y1="180.93" x2="525" y2="180.93" stroke="#2a2a2a" stroke-width="1"/>
<line x1="301.4" y1="167.25" x2="306.8" y2="167.25" stroke="#2a2a2a" stroke-width="1"/>
<line x1="530.4" y1="167.25" x2="525" y2="167.25" stroke="#2a2a2a" stroke-width="1"/>
<line x1="301.4" y1="153.57" x2="306.8" y2="153.57" stroke="#2a2a2a" stroke-width="1"/>
<line x1="530.4" y1="153.57" x2="525" y2="153.57" stroke="#2a2a2a" stroke-width="1"/>
<line x1="301.4" y1="139.9" x2="306.8" y2="139.9" stroke="#2a2a2a" stroke-width="1"/>
<line x1="530.4" y1="139.9" x2="525" y2="139.9" stroke="#2a2a2a" stroke-width="1"/>
<rect x="301.4" y="139.9" width="229" height="82.05" fill="none" stroke="#262626" stroke-width="1.1"/>
<text x="301.4" y="241.35" font-family='"Liberation Sans", Arial, Helvetica, sans-serif' font-size="10.5" font-weight="normal" text-anchor="middle" fill="#000" stroke="#000" stroke-width="0.35">327</text>
<text x="415.9" y="241.35" font-family='"Liberation Sans", Arial, Helvetica, sans-serif' font-size="10.5" font-weight="normal" text-anchor="middle" fill="#000" stroke="#000" stroke-width="0.35">327.25</text>
<text x="530.4" y="241.35" font-family='"Liberation Sans", Arial, Helvetica, sans-serif' font-size="10.5" font-weight="normal" text-anchor="middle" fill="#000" stroke="#000" stroke-width="0.35">327.5</text>
<text x="295.5" y="225.05" font-family='"Liberation Sans", Arial, Helvetica, sans-serif' font-size="10.5" font-weight="normal" text-anchor="end" fill="#000" stroke="#000" stroke-width="0.35">0</text>
<text x="295.5" y="211.37" font-family='"Liberation Sans", Arial, Helvetica, sans-serif' font-size="10.5" font-weight="normal" text-anchor="end" fill="#000" stroke="#000" stroke-width="0.35">1</text>
<text x="295.5" y="197.7" font-family='"Liberation Sans", Arial, Helvetica, sans-serif' font-size="10.5" font-weight="normal" text-anchor="end" fill="#000" stroke="#000" stroke-width="0.35">2</text>
<text x="295.5" y="184.03" font-family='"Liberation Sans", Arial, Helvetica, sans-serif' font-size="10.5" font-weight="normal" text-anchor="end" fill="#000" stroke="#000" stroke-width="0.35">3</text>
<text x="295.5" y="170.35" font-family='"Liberation Sans", Arial, Helvetica, sans-serif' font-size="10.5" font-weight="normal" text-anchor="end" fill="#000" stroke="#000" stroke-width="0.35">4</text>
<text x="295.5" y="156.67" font-family='"Liberation Sans", Arial, Helvetica, sans-serif' font-size="10.5" font-weight="normal" text-anchor="end" fill="#000" stroke="#000" stroke-width="0.35">5</text>
<text x="295.5" y="143" font-family='"Liberation Sans", Arial, Helvetica, sans-serif' font-size="10.5" font-weight="normal" text-anchor="end" fill="#000" stroke="#000" stroke-width="0.35">6</text>
<text x="305.8" y="147.2" font-family='"Liberation Serif", "Times New Roman", serif' font-size="6.8" font-weight="bold" text-anchor="start" fill="#000" stroke="#000" stroke-width="0.2" textLength="7.7" lengthAdjust="spacingAndGlyphs">(d)</text>
<line x1="154.25" y1="269.2" x2="154.25" y2="332.3" stroke="#e9e9e9" stroke-width="0.8"/>
<line x1="54" y1="311.27" x2="254.5" y2="311.27" stroke="#e9e9e9" stroke-width="0.8"/>
<line x1="54" y1="290.23" x2="254.5" y2="290.23" stroke="#e9e9e9" stroke-width="0.8"/>
<g clip-path="url(#ce)">
<polyline points="54,332.03 54.7,332.27 55.4,332 56.1,332.29 56.8,332.03 57.5,332.29 58.2,332.03 58.9,332.29 59.6,332.02 60.3,332.26 61,331.97 61.7,332.25 62.4,332 63.1,332.26 63.8,331.98 64.5,332.26 65.2,332.01 65.9,332.23 66.6,331.97 67.3,332.27 68,332 68.7,332.27 69.4,331.94 70.1,332.26 70.8,331.95 71.5,332.21 72.2,331.98 72.9,332.24 73.6,331.95 74.3,332.2 75,331.96 75.7,332.24 76.4,331.95 77.1,332.25 77.8,331.92 78.5,332.2 79.2,331.93 79.9,332.25 80.6,331.9 81.3,332.2 82,331.9 82.7,332.22 83.4,331.88 84.1,332.2 84.8,331.89 85.5,332.2 86.2,331.91 86.9,332.21 87.6,331.87 88.3,332.19 89,331.89 89.7,332.18 90.4,331.85 91.1,332.23 91.8,331.9 92.5,332.21 93.2,331.9 93.9,332.17 94.6,331.85 95.3,332.18 96,331.82 96.7,332.19 97.4,331.87 98.1,332.21 98.8,331.85 99.5,332.15 100.2,331.82 100.9,332.21 101.6,331.79 102.3,332.21 103,331.72 103.7,332.2 104.4,331.72 105.1,332.14 105.8,331.6 106.5,332.13 107.2,331.62 107.9,332.12 108.6,331.53 109.3,332.11 110,331.4 110.7,331.91 111.4,331.21 112.1,331.88 112.8,331.04 113.5,331.68 114.2,330.89 114.9,331.53 115.6,330.64 116.3,331.6 117,330.32 117.7,331.29 118.4,330.01 119.1,331.08 119.8,329.69 120.5,330.8 121.2,329.39 121.9,330.42 122.6,328.83 123.3,329.87 124,328.33 124.7,329.56 125.4,327.23 126.1,328.7 126.8,326.78 127.5,328.96 128.2,328.33 128.9,330.62 129.6,329.34 130.3,330.24 131,328.1 131.7,329.96 132.4,326.45 133.1,327.35 133.8,323.81 134.5,324.62 135.2,320.84 135.9,322.16 136.6,315.69 137.5,305 138,319.26 138.7,310.15 139.4,316.38 140.1,308.16 140.8,318.37 141.5,307.51 142.2,316.19 142.9,306.54 143.6,314.62 144.5,295.5 145,301.27 145.7,309.91 146.4,297.83 147.1,298.63 147.8,291.66 148.5,295.6 149.2,291.2 149.9,296.54 150.6,290.45 151,285 151.3,298.84 152,289.73 152.7,300.38 153.4,292.23 154.1,299.03 155,285 155.5,293.02 156.2,302.13 156.9,294.72 157.6,302.2 158.3,295.81 159,303.79 159.7,297.39 160.4,307.7 161.1,299.01 161.8,306.48 162.5,298.81 163.2,305.97 164,285.5 164.6,299.12 165.3,306.95 166,299.45 166.7,306.99 167.4,301.78 168,285.5 168.8,310.76 169.5,313.64 170.2,323.02 170.9,322.94 171.6,321.15 172.3,318.29 173,324.29 173.7,320.86 174.4,322.38 175.1,318.96 175.8,319.66 176.5,319.9 177.2,325.1 177.9,323.63 178.6,325.93 179.3,323.32 180,324.86 180.7,322.4 181.4,324.21 182.1,321.99 182.8,323.64 183.5,321.1 184.2,321.31 184.9,317.25 185.6,319.53 186.3,319.26 187,324.89 187.7,324.28 188.4,323.49 189.1,318.35 189.8,320.48 190.5,321.47 191.2,325.38 191.9,321.06 192.6,321.27 193.3,317.09 194,320.09 194.7,319.89 195.4,323.57 196.1,322.18 196.8,324.71 197.5,323.19 198.2,325.6 198.9,324.04 199.6,326.66 200.3,324.88 201,327.35 201.7,325.84 202.4,328.3 203.1,326.2 203.8,328.4 204.5,326.29 205.2,327.86 205.9,325.73 206.6,327.69 207.3,325.1 208,326.99 208.7,323.85 209.4,324.63 210.1,321.26 210.8,322.47 211.5,321.94 212.2,327.1 212.9,325.8 213.6,327.53 214.3,325.46 215,326.58 215.7,326.44 216.4,328.71 217.1,328.27 217.8,330.15 218.5,329.01 219.2,330.76 219.9,329.67 220.6,331.27 221.3,330.12 222,331.25 222.7,330.4 223.4,331.13 224.1,330.62 224.8,331.22 225.5,330.78 226.2,331.32 226.9,330.95 227.6,331.34 228.3,330.99 229,331.42 229.7,331.08 230.4,331.48 231.1,331.15 231.8,331.6 232.5,331.16 233.2,331.63 233.9,331.29 234.6,331.73 235.3,331.35 236,331.72 236.7,331.35 237.4,331.84 238.1,331.39 238.8,331.83 239.5,331.46 240.2,331.9 240.9,331.52 241.6,331.92 242.3,331.55 243,331.93 243.7,331.56 244.4,331.98 245.1,331.56 245.8,331.98 246.5,331.63 247.2,332.09 247.9,331.66 248.6,332.05 249.3,331.71 250,332.13 250.7,331.74 251.4,332.16 252.1,331.72 252.8,332.17 253.5,331.81 254.2,332.2" fill="none" stroke="#000" stroke-width="1.6" stroke-linejoin="round"/>
</g>
<line x1="54" y1="332.3" x2="54" y2="326.9" stroke="#2a2a2a" stroke-width="1"/>
<line x1="54" y1="269.2" x2="54" y2="274.6" stroke="#2a2a2a" stroke-width="1"/>
<line x1="154.25" y1="332.3" x2="154.25" y2="326.9" stroke="#2a2a2a" stroke-width="1"/>
<line x1="154.25" y1="269.2" x2="154.25" y2="274.6" stroke="#2a2a2a" stroke-width="1"/>
<line x1="254.5" y1="332.3" x2="254.5" y2="326.9" stroke="#2a2a2a" stroke-width="1"/>
<line x1="254.5" y1="269.2" x2="254.5" y2="274.6" stroke="#2a2a2a" stroke-width="1"/>
<line x1="54" y1="332.3" x2="59.4" y2="332.3" stroke="#2a2a2a" stroke-width="1"/>
<line x1="254.5" y1="332.3" x2="249.1" y2="332.3" stroke="#2a2a2a" stroke-width="1"/>
<line x1="54" y1="311.27" x2="59.4" y2="311.27" stroke="#2a2a2a" stroke-width="1"/>
<line x1="254.5" y1="311.27" x2="249.1" y2="311.27" stroke="#2a2a2a" stroke-width="1"/>
<line x1="54" y1="290.23" x2="59.4" y2="290.23" stroke="#2a2a2a" stroke-width="1"/>
<line x1="254.5" y1="290.23" x2="249.1" y2="290.23" stroke="#2a2a2a" stroke-width="1"/>
<line x1="54" y1="269.2" x2="59.4" y2="269.2" stroke="#2a2a2a" stroke-width="1"/>
<line x1="254.5" y1="269.2" x2="249.1" y2="269.2" stroke="#2a2a2a" stroke-width="1"/>
<rect x="54" y="269.2" width="200.5" height="63.1" fill="none" stroke="#262626" stroke-width="1.1"/>
<text x="54" y="351.7" font-family='"Liberation Sans", Arial, Helvetica, sans-serif' font-size="10.5" font-weight="normal" text-anchor="middle" fill="#000" stroke="#000" stroke-width="0.35">332.5</text>
<text x="154.25" y="351.7" font-family='"Liberation Sans", Arial, Helvetica, sans-serif' font-size="10.5" font-weight="normal" text-anchor="middle" fill="#000" stroke="#000" stroke-width="0.35">332.75</text>
<text x="254.5" y="351.7" font-family='"Liberation Sans", Arial, Helvetica, sans-serif' font-size="10.5" font-weight="normal" text-anchor="middle" fill="#000" stroke="#000" stroke-width="0.35">333</text>
<text x="48.1" y="335.4" font-family='"Liberation Sans", Arial, Helvetica, sans-serif' font-size="10.5" font-weight="normal" text-anchor="end" fill="#000" stroke="#000" stroke-width="0.35">0</text>
<text x="48.1" y="314.37" font-family='"Liberation Sans", Arial, Helvetica, sans-serif' font-size="10.5" font-weight="normal" text-anchor="end" fill="#000" stroke="#000" stroke-width="0.35">0.5</text>
<text x="48.1" y="293.33" font-family='"Liberation Sans", Arial, Helvetica, sans-serif' font-size="10.5" font-weight="normal" text-anchor="end" fill="#000" stroke="#000" stroke-width="0.35">1</text>
<text x="48.1" y="272.3" font-family='"Liberation Sans", Arial, Helvetica, sans-serif' font-size="10.5" font-weight="normal" text-anchor="end" fill="#000" stroke="#000" stroke-width="0.35">1.5</text>
<text x="57.5" y="275.5" font-family='"Liberation Serif", "Times New Roman", serif' font-size="6.8" font-weight="bold" text-anchor="start" fill="#000" stroke="#000" stroke-width="0.2" textLength="7.6" lengthAdjust="spacingAndGlyphs">(e)</text>
<line x1="422.45" y1="269.2" x2="422.45" y2="332.3" stroke="#e9e9e9" stroke-width="0.8"/>
<line x1="314.5" y1="311.27" x2="530.4" y2="311.27" stroke="#e9e9e9" stroke-width="0.8"/>
<line x1="314.5" y1="290.23" x2="530.4" y2="290.23" stroke="#e9e9e9" stroke-width="0.8"/>
<g clip-path="url(#cf)">
<polyline points="314.5,332.05 315.1,332.25 315.7,332.04 316.3,332.26 316.9,332 317.5,332.26 318.1,332.03 318.7,332.28 319.3,332.01 319.9,332.24 320.5,332.01 321.1,332.27 321.7,332.02 322.3,332.27 322.9,332 323.5,332.27 324.1,332.01 324.7,332.26 325.3,332 325.9,332.29 326.5,332.02 327.1,332.25 327.7,332 328.3,332.24 328.9,332.03 329.5,332.28 330.1,332 330.7,332.25 331.3,332.02 331.9,332.24 332.5,332 333.1,332.27 333.7,331.98 334.3,332.28 334.9,331.97 335.5,332.27 336.1,332 336.7,332.27 337.3,331.99 337.9,332.23 338.5,332.01 339.1,332.25 339.7,331.99 340.3,332.26 340.9,332.01 341.5,332.24 342.1,331.99 342.7,332.25 343.3,331.98 343.9,332.27 344.5,331.96 345.1,332.22 345.7,331.99 346.3,332.23 346.9,331.97 347.5,332.26 348.1,331.99 348.7,332.27 349.3,331.98 349.9,332.25 350.5,331.97 351.1,332.24 351.7,331.97 352.3,332.26 352.9,331.98 353.5,332.24 354.1,331.97 354.7,332.26 355.3,331.98 355.9,332.21 356.5,331.95 357.1,332.22 357.7,331.97 358.3,332.24 358.9,331.95 359.5,332.23 360.1,331.95 360.7,332.26 361.3,331.94 361.9,332.25 362.5,331.96 363.1,332.23 363.7,331.92 364.3,332.24 364.9,331.94 365.5,332.25 366.1,331.92 366.7,332.24 367.3,331.94 367.9,332.22 368.5,331.93 369.1,332.23 369.7,331.93 370.3,332.25 370.9,331.91 371.5,332.22 372.1,331.93 372.7,332.24 373.3,331.94 373.9,332.21 374.5,331.94 375.1,332.24 375.7,331.95 376.3,332.2 376.9,331.95 377.5,332.22 378.1,331.92 378.7,332.23 379.3,331.91 379.9,332.22 380.5,331.9 381.1,332.23 381.7,331.93 382.3,332.22 382.9,331.94 383.5,332.22 384.1,331.93 384.7,332.22 385.3,331.9 385.9,332.22 386.5,331.95 387.1,332.19 387.7,331.92 388.3,332.24 388.9,331.9 389.5,332.19 390.1,331.9 390.7,332.19 391.3,331.93 391.9,332.18 392.5,331.92 393.1,332.18 393.7,331.87 394.3,332.2 394.9,331.91 395.5,332.19 396.1,331.89 396.7,332.2 397.3,331.93 397.9,332.21 398.5,331.89 399.1,332.23 399.7,331.9 400.3,332.17 400.9,331.88 401.5,332.21 402.1,331.92 402.7,332.19 403.3,331.88 403.9,332.21 404.5,331.89 405.1,332.16 405.7,331.88 406.3,332.19 406.9,331.92 407.5,332.19 408.1,331.92 408.7,332.16 409.3,331.88 409.9,332.18 410.5,331.87 411.1,332.22 411.7,331.86 412.3,332.17 412.9,331.91 413.5,332.16 414.1,331.85 414.7,332.15 415.3,331.9 415.9,332.16 416.5,331.85 417.1,332.2 417.7,331.9 418.3,332.17 418.9,331.9 419.5,332.18 420.1,331.85 420.7,332.19 421.3,331.88 421.9,332.19 422.5,331.89 423.1,332.21 423.7,331.86 424.3,332.16 424.9,331.82 425.5,332.2 426.1,331.87 426.7,332.15 427.3,331.87 427.9,332.16 428.5,331.82 429.1,332.15 429.7,331.84 430.3,332.16 430.9,331.82 431.5,332.2 432.1,331.86 432.7,332.15 433.3,331.85 433.9,332.15 434.5,331.81 435.1,332.15 435.7,331.84 436.3,332.15 436.9,331.81 437.5,332.19 438.1,331.87 438.7,332.14 439.3,331.81 439.9,332.15 440.5,331.81 441.1,332.15 441.7,331.71 442.3,332.08 442.9,331.65 443.5,332.05 444.1,331.59 444.7,332.05 445.3,331.54 445.9,332.03 446.5,331.52 447.1,331.96 447.7,331.44 448.3,331.87 448.9,331.37 449.5,331.93 450.1,331.29 450.7,331.82 451.3,331.22 451.9,331.76 452.5,331.16 453.1,331.78 453.7,331.12 454.3,331.81 454.9,331.1 455.5,331.7 456.1,330.93 456.7,331.65 457.3,330.89 457.9,331.53 458.5,330.78 459.1,331.4 459.7,330.53 460.3,331.32 460.9,330.56 461.5,331.28 462.1,330.33 462.7,331.12 463.3,330.17 463.9,331.04 464.5,330.05 465.1,330.93 465.7,329.65 466.3,330.54 466.9,329.23 467.5,330.55 468.1,328.54 468.7,329.9 469.3,327.37 469.9,329.47 470.5,326.09 471.1,328.56 471.7,325.27 472.3,327.53" fill="none" stroke="#000" stroke-width="1.6" stroke-linejoin="round"/>
<polyline points="500.5,331.8 501.2,332.25 501.9,331.86 502.6,332.25 503.3,331.84 504,332.22 504.7,331.88 505.4,332.28 506.1,331.89 506.8,332.29 507.5,331.88 508.2,332.22 508.9,331.92 509.6,332.24 510.3,331.93 511,332.23 511.7,331.91 512.4,332.27 513.1,331.96 513.8,332.29 514.5,331.9 515.2,332.29 515.9,331.93 516.6,332.26 517.3,331.95 518,332.25 518.7,331.98 519.4,332.25 520.1,331.99 520.8,332.29 521.5,331.96 522.2,332.29 522.9,332 523.6,332.27 524.3,331.98 525,332.3 525.7,331.99 526.4,332.27 527.1,332.04 527.8,332.27 528.5,332.04 529.2,332.27 529.9,332.02" fill="none" stroke="#000" stroke-width="1.6" stroke-linejoin="round"/>
<polygon points="467.5,332 469,330 471,327 473,322 474.5,312 476,309 480,308 484,308 488,308 491.8,306 491.8,332" fill="#000" stroke="#000" stroke-width="0.5" stroke-linejoin="round"/>
<polyline points="472.8,324 473.4,312 474,300 474.5,297 475,305 475.6,314 476.3,290 476.9,282.2 477.4,290 477.9,308 478.5,300 479.2,280 479.7,274.6 480.2,282 480.7,281 481.3,292 481.8,308 482.4,300 482.9,312 483.6,295 484.2,288.5 484.7,305 485.3,290 485.9,280.5 486.4,290 486.9,308 487.4,295 487.9,286.5 488.4,302 488.9,285.5 489.5,283 490,302 490.5,312 491,290 491.6,279 492.1,288 492.5,292" fill="none" stroke="#000" stroke-width="1.4" stroke-linejoin="round"/>
<polygon points="492.2,288 493,292 494.5,300 496.5,311 498.6,321 500.5,331.8 498.8,332 496.8,323 494.6,313 492.6,304" fill="#000" stroke="#000" stroke-width="0.5" stroke-linejoin="round"/>
<polygon points="475.15,316 475.45,316 474.9,331.6 475.7,331.6" fill="#fff"/>
<polygon points="476.25,314 476.55,314 475.95,331.6 476.85,331.6" fill="#fff"/>
<polygon points="478.45,310 478.75,310 478.05,331.6 479.15,331.6" fill="#fff"/>
<polygon points="480.15,318 480.45,318 479.95,331.6 480.65,331.6" fill="#fff"/>
<polygon points="481.45,310 481.75,310 481.05,331.6 482.15,331.6" fill="#fff"/>
<polygon points="483.05,314 483.35,314 482.75,331.6 483.65,331.6" fill="#fff"/>
<polygon points="485.15,312 485.45,312 484.85,331.6 485.75,331.6" fill="#fff"/>
<polygon points="487.45,300 487.75,300 486.9,331.6 488.3,331.6" fill="#fff"/>
<polygon points="489.05,316 489.35,316 488.85,331.6 489.55,331.6" fill="#fff"/>
<polygon points="490.25,310 490.55,310 489.95,331.6 490.85,331.6" fill="#fff"/>
<polyline points="501.6,332 502,316 502.3,315.2 502.6,332" fill="none" stroke="#000" stroke-width="1.1" stroke-linejoin="round"/>
</g>
<line x1="314.5" y1="332.3" x2="314.5" y2="326.9" stroke="#2a2a2a" stroke-width="1"/>
<line x1="314.5" y1="269.2" x2="314.5" y2="274.6" stroke="#2a2a2a" stroke-width="1"/>
<line x1="422.45" y1="332.3" x2="422.45" y2="326.9" stroke="#2a2a2a" stroke-width="1"/>
<line x1="422.45" y1="269.2" x2="422.45" y2="274.6" stroke="#2a2a2a" stroke-width="1"/>
<line x1="530.4" y1="332.3" x2="530.4" y2="326.9" stroke="#2a2a2a" stroke-width="1"/>
<line x1="530.4" y1="269.2" x2="530.4" y2="274.6" stroke="#2a2a2a" stroke-width="1"/>
<line x1="314.5" y1="332.3" x2="319.9" y2="332.3" stroke="#2a2a2a" stroke-width="1"/>
<line x1="530.4" y1="332.3" x2="525" y2="332.3" stroke="#2a2a2a" stroke-width="1"/>
<line x1="314.5" y1="311.27" x2="319.9" y2="311.27" stroke="#2a2a2a" stroke-width="1"/>
<line x1="530.4" y1="311.27" x2="525" y2="311.27" stroke="#2a2a2a" stroke-width="1"/>
<line x1="314.5" y1="290.23" x2="319.9" y2="290.23" stroke="#2a2a2a" stroke-width="1"/>
<line x1="530.4" y1="290.23" x2="525" y2="290.23" stroke="#2a2a2a" stroke-width="1"/>
<line x1="314.5" y1="269.2" x2="319.9" y2="269.2" stroke="#2a2a2a" stroke-width="1"/>
<line x1="530.4" y1="269.2" x2="525" y2="269.2" stroke="#2a2a2a" stroke-width="1"/>
<rect x="314.5" y="269.2" width="215.9" height="63.1" fill="none" stroke="#262626" stroke-width="1.1"/>
<text x="314.5" y="351.7" font-family='"Liberation Sans", Arial, Helvetica, sans-serif' font-size="10.5" font-weight="normal" text-anchor="middle" fill="#000" stroke="#000" stroke-width="0.35">336.5</text>
<text x="422.45" y="351.7" font-family='"Liberation Sans", Arial, Helvetica, sans-serif' font-size="10.5" font-weight="normal" text-anchor="middle" fill="#000" stroke="#000" stroke-width="0.35">336.75</text>
<text x="530.4" y="351.7" font-family='"Liberation Sans", Arial, Helvetica, sans-serif' font-size="10.5" font-weight="normal" text-anchor="middle" fill="#000" stroke="#000" stroke-width="0.35">337</text>
<text x="308.6" y="335.4" font-family='"Liberation Sans", Arial, Helvetica, sans-serif' font-size="10.5" font-weight="normal" text-anchor="end" fill="#000" stroke="#000" stroke-width="0.35">0</text>
<text x="308.6" y="314.37" font-family='"Liberation Sans", Arial, Helvetica, sans-serif' font-size="10.5" font-weight="normal" text-anchor="end" fill="#000" stroke="#000" stroke-width="0.35">0.5</text>
<text x="308.6" y="293.33" font-family='"Liberation Sans", Arial, Helvetica, sans-serif' font-size="10.5" font-weight="normal" text-anchor="end" fill="#000" stroke="#000" stroke-width="0.35">1</text>
<text x="308.6" y="272.3" font-family='"Liberation Sans", Arial, Helvetica, sans-serif' font-size="10.5" font-weight="normal" text-anchor="end" fill="#000" stroke="#000" stroke-width="0.35">1.5</text>
<text x="317.6" y="276.5" font-family='"Liberation Serif", "Times New Roman", serif' font-size="6.8" font-weight="bold" text-anchor="start" fill="#000" stroke="#000" stroke-width="0.2" textLength="7" lengthAdjust="spacingAndGlyphs">(f)</text>
<rect x="455.8" y="22.1" width="41.4" height="8.5" fill="#fff"/>
<text x="457.3" y="28.6" font-family='"Liberation Serif", "Times New Roman", serif' font-size="7.1" font-weight="bold" text-anchor="start" fill="#000" stroke="#000" stroke-width="0.3" textLength="38.4" lengthAdjust="spacingAndGlyphs">11 November</text>
<rect x="186" y="151.4" width="51.4" height="8.5" fill="#fff"/>
<text x="187.5" y="157.9" font-family='"Liberation Serif", "Times New Roman", serif' font-size="7.1" font-weight="bold" text-anchor="start" fill="#000" stroke="#000" stroke-width="0.3" textLength="48.4" lengthAdjust="spacingAndGlyphs">16/17 November</text>
<rect x="428.2" y="154.1" width="42.4" height="8.5" fill="#fff"/>
<text x="429.7" y="160.6" font-family='"Liberation Serif", "Times New Roman", serif' font-size="7.1" font-weight="bold" text-anchor="start" fill="#000" stroke="#000" stroke-width="0.3" textLength="39.4" lengthAdjust="spacingAndGlyphs">23 November</text>
<rect x="190.5" y="276.5" width="43" height="8.5" fill="#fff"/>
<text x="192" y="283" font-family='"Liberation Serif", "Times New Roman", serif' font-size="7.1" font-weight="bold" text-anchor="start" fill="#000" stroke="#000" stroke-width="0.3" textLength="40" lengthAdjust="spacingAndGlyphs">28 November</text>
<rect x="424.4" y="277.5" width="37.8" height="8.5" fill="#fff"/>
<text x="425.9" y="284" font-family='"Liberation Serif", "Times New Roman", serif' font-size="7.1" font-weight="bold" text-anchor="start" fill="#000" stroke="#000" stroke-width="0.3" textLength="34.8" lengthAdjust="spacingAndGlyphs">2 December</text>
<text x="13.2" y="52.6" font-family='"Liberation Sans", Arial, Helvetica, sans-serif' font-size="10.5" font-weight="normal" text-anchor="middle" fill="#000" stroke="#000" stroke-width="0.35" transform="rotate(-90 13.2 52.6)">MER</text>
<text x="13.2" y="181.7" font-family='"Liberation Sans", Arial, Helvetica, sans-serif' font-size="10.5" font-weight="normal" text-anchor="middle" fill="#000" stroke="#000" stroke-width="0.35" transform="rotate(-90 13.2 181.7)">MER</text>
<text x="13.2" y="301.7" font-family='"Liberation Sans", Arial, Helvetica, sans-serif' font-size="10.5" font-weight="normal" text-anchor="middle" fill="#000" stroke="#000" stroke-width="0.35" transform="rotate(-90 13.2 301.7)">MER</text>
<text x="154.3" y="375" font-family='"Liberation Sans", Arial, Helvetica, sans-serif' font-size="10.5" font-weight="normal" text-anchor="middle" fill="#000" stroke="#000" stroke-width="0.35">Julian day</text>
<text x="422.4" y="375" font-family='"Liberation Sans", Arial, Helvetica, sans-serif' font-size="10.5" font-weight="normal" text-anchor="middle" fill="#000" stroke="#000" stroke-width="0.35">Julian day</text>
</svg>
</body></html>
